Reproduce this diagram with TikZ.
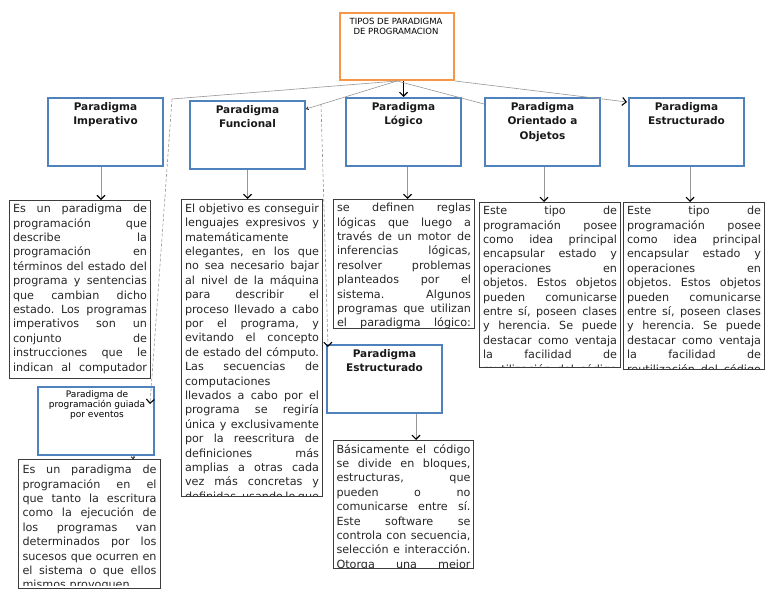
\documentclass[tikz,border=0pt]{standalone}
\usepackage{fontspec}
\setmainfont{DejaVu Sans}
\usetikzlibrary{arrows.meta}
\definecolor{pblue}{RGB}{79,129,189}
\definecolor{porange}{RGB}{247,150,70}
\definecolor{tgray}{RGB}{60,60,60}
\definecolor{lgray}{RGB}{150,150,150}
\newcommand{\jl}[1]{\leavevmode\hbox to 134pt{\spaceskip=0pt\xspaceskip=0pt\frenchspacing #1}}
\newcommand{\poodesc}{%
\jl{Este tipo de}\\
\jl{programación posee}\\
\jl{como idea principal}\\
\jl{encapsular estado y}\\
\jl{operaciones en}\\
\jl{objetos. Estos objetos}\\
\jl{pueden comunicarse}\\
\jl{entre sí, poseen clases}\\
\jl{y herencia. Se puede}\\
\jl{destacar como ventaja}\\
\jl{la facilidad de}\\
\jl{reutilización del código}}
\begin{document}
\begin{tikzpicture}[x=1pt,y=-1pt,
  pbox/.style={draw=pblue,line width=2pt,anchor=north west,minimum width=115pt,minimum height=68pt,inner sep=0pt},
  ptitle/.style={anchor=north,align=center,inner sep=0pt,text=black!90,font=\bfseries\fontsize{10.5}{14.5}\selectfont},
  tinytxt/.style={anchor=north,align=center,inner sep=0pt,font=\fontsize{8.5}{10}\selectfont},
  tbox/.style={draw=tgray,line width=1pt,anchor=north west,minimum width=141pt,inner sep=0pt},
  tbody/.style={anchor=north,text width=134pt,align=left,inner sep=0pt,text=black!85,font=\fontsize{11.2}{14.4}\selectfont},
  link/.style={draw=lgray,line width=0.6pt},
  vtip/.style={-{Straight Barb[length=4pt,width=8pt,line width=1.1pt,color=black]}}
]
\useasboundingbox (0,0) rectangle (768,594);

\node[draw=porange,line width=2pt,anchor=north west,minimum width=114pt,minimum height=67pt,inner sep=0pt] (top) at (339,12) {};
\node[tinytxt] (toptitle) at (396,18) {TIPOS DE PARADIGMA\\DE PROGRAMACION};

\node[pbox] (imp) at (47,97) {};
\node[ptitle] (impt) at ([yshift=-5pt]imp.north) {Paradigma\\Imperativo};
\node[pbox] (fun) at (189,100) {};
\node[ptitle] (funt) at ([yshift=-5pt]fun.north) {Paradigma\\Funcional};
\node[pbox] (log) at (345,97) {};
\node[ptitle] (logt) at ([yshift=-5pt]log.north) {Paradigma\\Lógico};
\node[pbox] (obj) at (484,97) {};
\node[ptitle] (objt) at ([yshift=-5pt]obj.north) {Paradigma\\Orientado a\\Objetos};
\node[pbox] (est) at (628,97) {};
\node[ptitle] (estt) at ([yshift=-5pt]est.north) {Paradigma\\Estructurado};
\node[pbox,minimum width=116pt] (eve) at (37,386) {};
\node[tinytxt,font=\fontsize{9}{10}\selectfont] (evet) at (97,390) {Paradigma de\\programación guiada\\por eventos};
\node[pbox] (est2) at (326,344) {};
\node[ptitle] (est2t) at ([yshift=-5pt]est2.north) {Paradigma\\Estructurado};

\coordinate (impbend) at (172,99);
\coordinate (eveend) at (150,404);
\coordinate (funend) at (306,109);
\coordinate (funbend) at (321,104);
\coordinate (est2end) at (328,347);
\coordinate (objend) at (484,104);
\coordinate (estend) at (627,102);

\draw[link,draw=black,line width=0.8pt,vtip] (top.south -| log.north) -- (log.north);
\draw[link] (top.south) -- (impbend);
\draw[link,densely dashed,vtip] (impbend) -- (eveend);
\draw[link,-{Straight Barb[length=2pt,width=3pt,color=black]}] (top.south) -- (funend);
\draw[link,densely dashed,vtip] (funbend) -- (est2end);
\draw[link] (top.south) -- (objend);
\draw[link,vtip] (top.south east) -- (estend);

\node[tbox,minimum height=178pt] (imptxt) at (9,200) {};
\begin{scope}
\clip (imptxt.north west) rectangle ([yshift=2pt]imptxt.south east);
\node[tbody] (impdesc) at ([yshift=-4pt]imptxt.north) {%
\jl{Es un paradigma de}\\
\jl{programación que}\\
\jl{describe la}\\
\jl{programación en}\\
\jl{términos del estado del}\\
\jl{programa y sentencias}\\
\jl{que cambian dicho}\\
\jl{estado. Los programas}\\
\jl{imperativos son un}\\
\jl{conjunto de}\\
\jl{instrucciones que le}\\
\jl{indican al computador}};
\end{scope}

\node[tbox,minimum height=297pt] (funtxt) at (181,199) {};
\begin{scope}
\clip (funtxt.north west) rectangle ([yshift=2pt]funtxt.south east);
\node[tbody] (fundesc) at ([yshift=-4.5pt]funtxt.north) {%
\jl{El objetivo es conseguir}\\
\jl{lenguajes expresivos y}\\
matemáticamente\\
\jl{elegantes, en los que}\\
\jl{no sea necesario bajar}\\
\jl{al nivel de la máquina}\\
\jl{para describir el}\\
\jl{proceso llevado a cabo}\\
\jl{por el programa, y}\\
\jl{evitando el concepto}\\
\jl{de estado del cómputo.}\\
\jl{Las secuencias de}\\
computaciones\\
\jl{llevados a cabo por el}\\
\jl{programa se regiría}\\
\jl{única y exclusivamente}\\
\jl{por la reescritura de}\\
\jl{definiciones más}\\
\jl{amplias a otras cada}\\
\jl{vez más concretas y}\\
\jl{definidas, usando lo que}};
\end{scope}

\node[tbox,minimum height=129pt] (logtxt) at (333,199) {};
\begin{scope}
\clip (logtxt.north west) rectangle ([yshift=2pt]logtxt.south east);
\node[tbody] (logdesc) at ([yshift=-4pt]logtxt.north) {%
\jl{se definen reglas}\\
\jl{lógicas que luego a}\\
\jl{través de un motor de}\\
\jl{inferencias lógicas,}\\
\jl{resolver problemas}\\
\jl{planteados por el}\\
\jl{sistema. Algunos}\\
\jl{programas que utilizan}\\
\jl{el paradigma lógico:}};
\end{scope}

\node[tbox,minimum height=165pt] (objtxt) at (479,202) {};
\begin{scope}
\clip (objtxt.north west) rectangle ([yshift=2pt]objtxt.south east);
\node[tbody] (objdesc) at ([yshift=-4pt]objtxt.north) {\poodesc};
\end{scope}

\node[tbox,minimum height=167pt] (esttxt) at (623,202) {};
\begin{scope}
\clip (esttxt.north west) rectangle ([yshift=2pt]esttxt.south east);
\node[tbody] (estdesc) at ([yshift=-4pt]esttxt.north) {\poodesc};
\end{scope}

\node[tbox,minimum width=142pt,minimum height=129pt] (evetxt) at (18,459) {};
\begin{scope}
\clip (evetxt.north west) rectangle ([yshift=4pt]evetxt.south east);
\node[tbody] (evedesc) at ([yshift=-6pt]evetxt.north) {%
\jl{Es un paradigma de}\\
\jl{programación en el}\\
\jl{que tanto la escritura}\\
\jl{como la ejecución de}\\
\jl{los programas van}\\
\jl{determinados por los}\\
\jl{sucesos que ocurren en}\\
\jl{el sistema o que ellos}\\
mismos provoquen.};
\end{scope}

\node[tbox,minimum width=140pt,minimum height=128pt] (est2txt) at (333,440) {};
\begin{scope}
\clip (est2txt.north west) rectangle ([yshift=2pt]est2txt.south east);
\node[tbody] (est2desc) at ([yshift=-4pt]est2txt.north) {%
\jl{Básicamente el código}\\
\jl{se divide en bloques,}\\
\jl{estructuras, que}\\
\jl{pueden o no}\\
\jl{comunicarse entre sí.}\\
\jl{Este software se}\\
\jl{controla con secuencia,}\\
\jl{selección e interacción.}\\
\jl{Otorga una mejor}};
\end{scope}

\draw[link,vtip] ([xshift=-4.5pt]imp.south) -- ([xshift=-4.5pt]imp.south |- imptxt.north);
\draw[link,vtip] (fun.south) -- (fun.south |- funtxt.north);
\draw[link,vtip] ([xshift=4pt]log.south) -- ([xshift=4pt]log.south |- logtxt.north);
\draw[link,vtip] ([xshift=1.5pt]obj.south) -- ([xshift=1.5pt]obj.south |- objtxt.north);
\draw[link,vtip] ([xshift=3.5pt]est.south) -- ([xshift=3.5pt]est.south |- esttxt.north);
\draw[link,vtip] ([xshift=31.5pt]est2.south) -- ([xshift=31.5pt]est2.south |- est2txt.north);
\draw[link,-{Straight Barb[length=2pt,width=4pt,color=black]}] ([xshift=37pt]eve.south) -- ([xshift=37pt]eve.south |- evetxt.north);
\end{tikzpicture}
\end{document}
